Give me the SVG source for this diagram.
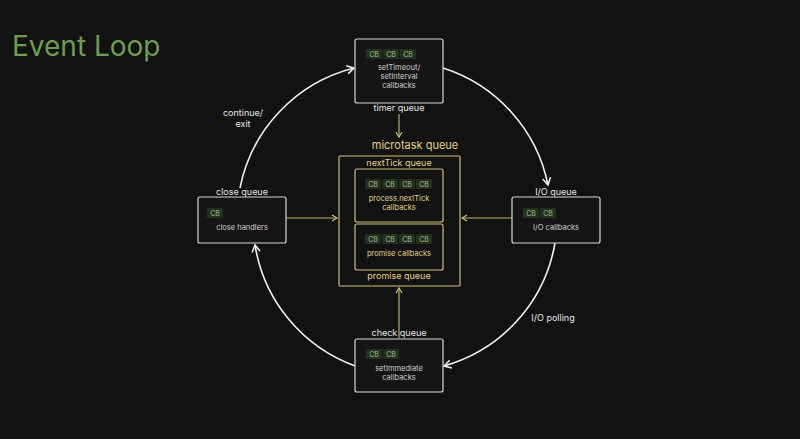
<svg xmlns="http://www.w3.org/2000/svg" width="800" height="439" viewBox="0 0 800 439">
<defs>
<style>
text{font-family:"Inter","Liberation Sans",sans-serif;text-anchor:middle}
.box{fill:#151515;stroke:#d8d8d8;stroke-width:1.2}
.ybox{fill:none;stroke:#cbbf78;stroke-width:1.2}
.lbl{fill:#e6e6e6;font-size:9px}
.t{fill:#d0d0d0;font-size:7.5px}
.yt{fill:#e0d48a;font-size:7.5px}
.ylbl{fill:#e0d48a;font-size:9px}
.arc{fill:none;stroke:#f0f0f0;stroke-width:1.6}
.ya{stroke:#b9ad70;stroke-width:1.2;fill:none}
</style>
<marker id="wa" markerWidth="10" markerHeight="10" refX="8" refY="5" orient="auto" markerUnits="userSpaceOnUse"><path d="M1,1 L8,5 L1,9" fill="none" stroke="#f0f0f0" stroke-width="1.5"/></marker>
<marker id="ya" markerWidth="8" markerHeight="8" refX="6" refY="4" orient="auto" markerUnits="userSpaceOnUse"><path d="M1,1 L6,4 L1,7" fill="none" stroke="#cbbf78" stroke-width="1.2"/></marker>
<g id="cb"><rect x="0" y="0" width="16" height="10" rx="1" fill="#24301f"/><text x="8" y="7.5" fill="#9cc487" font-size="7" font-family="Inter, Liberation Sans, sans-serif" text-anchor="middle">CB</text></g>
</defs>
<rect width="800" height="439" fill="#121212"/>
<text x="12" y="56" style="text-anchor:start;font-size:28px;fill:#6f9d4f">Event Loop</text>

<g id="connectors">
<path class="arc" d="M443,68 A155,155 0 0 1 548,185" marker-end="url(#wa)"/>
<path class="arc" d="M555,243 A155,155 0 0 1 444,366" marker-end="url(#wa)"/>
<path class="arc" d="M355,366 A155,155 0 0 1 255,245" marker-end="url(#wa)"/>
<path class="arc" d="M240,188 A155,155 0 0 1 354,68" marker-end="url(#wa)"/>
<line class="ya" x1="399" y1="114" x2="399" y2="137" marker-end="url(#ya)"/>
<line class="ya" x1="399" y1="338" x2="399" y2="288" marker-end="url(#ya)"/>
<line class="ya" x1="286" y1="218" x2="337" y2="218" marker-end="url(#ya)"/>
<line class="ya" x1="512" y1="218" x2="462" y2="218" marker-end="url(#ya)"/>
<text class="lbl" x="243" y="116">continue/</text>
<text class="lbl" x="243" y="127">exit</text>
<text class="lbl" x="553" y="321">I/O polling</text>
</g>

<g id="timer">
<rect class="box" x="355" y="39" width="88" height="64" rx="2"/>
<use href="#cb" x="366" y="49"/><use href="#cb" x="383" y="49"/><use href="#cb" x="400" y="49"/>
<text class="t" x="399" y="70">setTimeout/</text>
<text class="t" x="399" y="79">setInterval</text>
<text class="t" x="399" y="88">callbacks</text>
<text class="lbl" x="399" y="111">timer queue</text>
</g>

<g id="microtask">
<text x="415" y="149" style="fill:#e0d48a;font-size:11px">microtask queue</text>
<rect class="ybox" x="339" y="156" width="121" height="130" rx="1"/>
<text class="ylbl" x="399" y="166">nextTick queue</text>
<rect class="ybox" x="355" y="169" width="88" height="53" rx="2"/>
<use href="#cb" x="365" y="179"/><use href="#cb" x="382" y="179"/><use href="#cb" x="399" y="179"/><use href="#cb" x="416" y="179"/>
<text class="yt" x="399" y="201">process.nextTick</text>
<text class="yt" x="399" y="210">callbacks</text>
<rect class="ybox" x="355" y="224" width="88" height="46" rx="2"/>
<use href="#cb" x="365" y="234"/><use href="#cb" x="382" y="234"/><use href="#cb" x="399" y="234"/><use href="#cb" x="416" y="234"/>
<text class="yt" x="399" y="256">promise callbacks</text>
<text class="ylbl" x="399" y="279">promise queue</text>
</g>

<g id="close">
<text class="lbl" x="242" y="195">close queue</text>
<rect class="box" x="198" y="197" width="88" height="46" rx="2"/>
<use href="#cb" x="207" y="208"/>
<text class="t" x="242" y="230">close handlers</text>
</g>

<g id="io">
<text class="lbl" x="556" y="195">I/O queue</text>
<rect class="box" x="512" y="197" width="88" height="46" rx="2"/>
<use href="#cb" x="523" y="208"/><use href="#cb" x="540" y="208"/>
<text class="t" x="556" y="230">I/O callbacks</text>
</g>

<g id="check">
<text class="lbl" x="399" y="336">check queue</text>
<rect class="box" x="355" y="339" width="88" height="53" rx="2"/>
<use href="#cb" x="366" y="349"/><use href="#cb" x="383" y="349"/>
<text class="t" x="399" y="371">setImmediate</text>
<text class="t" x="399" y="380">callbacks</text>
</g>
</svg>
